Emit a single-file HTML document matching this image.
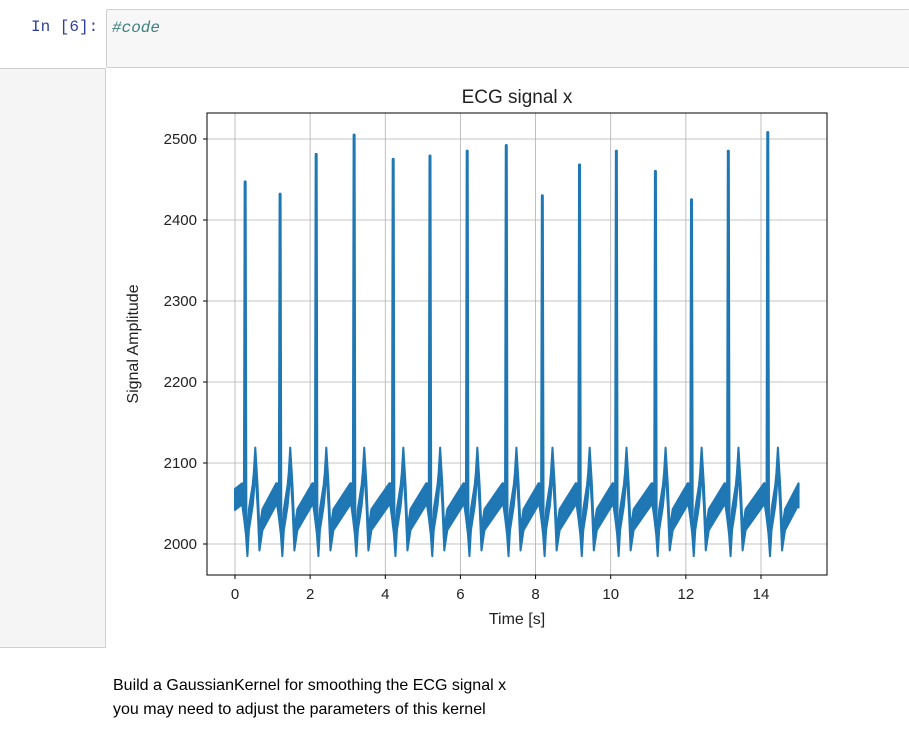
<!DOCTYPE html>
<html><head><meta charset="utf-8"><style>
body{margin:0;width:909px;height:742px;background:#fff;position:relative;overflow:hidden;font-family:"Liberation Sans",sans-serif}
.abs{position:absolute}
</style></head><body>
<div class="abs" style="left:31px;top:18px;font-family:'Liberation Mono',monospace;font-size:16px;color:#303f9f">In [6]:</div>
<div class="abs" style="left:106px;top:9px;width:803px;height:57px;background:#f7f7f7;border:1px solid #cfcfcf;border-right:none;border-radius:2px">
<span style="position:absolute;left:5px;top:9px;font-family:'Liberation Mono',monospace;font-style:italic;font-size:16px;color:#408080">#code</span></div>
<div class="abs" style="left:-1px;top:68px;width:105px;height:578px;background:#f5f5f5;border:1px solid #cfcfcf"></div>
<svg class="abs" style="left:0;top:0" width="909" height="742">
<g id="grid"></g><g id="sig"></g><g id="axes"></g>
</svg>
<div class="abs" style="left:113px;top:674px;font-size:16px;line-height:24px;color:#000">Build a GaussianKernel for smoothing the ECG signal x<br>you may need to adjust the parameters of this kernel</div>
<script>
const peakTimes=[0.27,1.20,2.16,3.17,4.21,5.19,6.18,7.22,8.18,9.17,10.15,11.19,12.15,13.13,14.18];
const peakValues=[2447,2432,2481,2505,2475,2479,2485,2492,2430,2468,2485,2460,2425,2485,2508];
const xTicks=[0,2,4,6,8,10,12,14];
const yTicks=[2000,2100,2200,2300,2400,2500];
const tEnd=15;
const NS='http://www.w3.org/2000/svg';
const L=207,R=827,T=113,B=575;
const X=t=>235+t*(761-235)/14;
const Y=v=>544-(v-2000)*(544-139)/500;
function mk(tag,at,parent){const e=document.createElementNS(NS,tag);for(const k in at)e.setAttribute(k,at[k]);document.getElementById(parent).appendChild(e);return e;}
xTicks.forEach(t=>{const l=mk('line',{x1:X(t),x2:X(t),y1:T,y2:B,stroke:'#b0b0b0','stroke-width':0.8},'grid');

});
yTicks.forEach(v=>{const l=mk('line',{x1:L,x2:R,y1:Y(v),y2:Y(v),stroke:'#b0b0b0','stroke-width':0.8},'grid');

});
const tpl=[[-0.08,2062],[-0.03,2045],[0.02,2025],[0.06,1998],[0.1,2030],[0.2,2060],[0.23,2075],[0.27,2106],[0.33,2060],[0.38,2005],[0.46,2030]];
let pts=[[0,2055]];
peakTimes.forEach((p,i)=>{tpl.forEach(([d,v])=>{const t=p+d;if(t>=0&&t<=tEnd)pts.push([t,v]);});
const nx=i+1<peakTimes.length?peakTimes[i+1]:tEnd+0.3;const e=Math.min(nx-0.1,tEnd);if(e>p+0.46)pts.push([e,2062]);});
pts.push([tEnd,2058]);
pts.sort((a,b)=>a[0]-b[0]);
const up=pts.map(([t,v])=>X(t)+','+Y(v+13)).join(' ');
const dn=pts.slice().reverse().map(([t,v])=>X(t)+','+Y(v-13)).join(' ');
const band=mk('polygon',{points:up+' '+dn,fill:'#1f77b4',stroke:'#1f77b4','stroke-width':2,'stroke-linejoin':'round'},'sig');


peakTimes.forEach((p,i)=>{const l=mk('polyline',{points:`${X(p-0.02)},${Y(2045)} ${X(p)},${Y(peakValues[i])} ${X(p+0.02)},${Y(2020)}`,fill:'none',stroke:'#1f77b4','stroke-width':3,'stroke-linejoin':'round'},'sig');

});
const fr=mk('rect',{x:L,y:T,width:R-L,height:B-T,fill:'none',stroke:'#000','stroke-width':1},'axes');


xTicks.forEach(t=>{mk('line',{x1:X(t),x2:X(t),y1:B,y2:B+4,stroke:'#000'},'axes');
const tx=mk('text',{x:X(t),y:B+24,'text-anchor':'middle','font-size':15,fill:'#222'},'axes');tx.textContent=t;

});
yTicks.forEach(v=>{mk('line',{x1:L-4,x2:L,y1:Y(v),y2:Y(v),stroke:'#000'},'axes');
const tx=mk('text',{x:L-10,y:Y(v)+5,'text-anchor':'end','font-size':15,fill:'#222'},'axes');tx.textContent=v;

});
let t1=mk('text',{x:517,y:103,'text-anchor':'middle','font-size':19,fill:'#222'},'axes');t1.textContent='ECG signal x';


let t2=mk('text',{x:517,y:624,'text-anchor':'middle','font-size':16,fill:'#222'},'axes');t2.textContent='Time [s]';


let t3=mk('text',{x:138,y:344,'text-anchor':'middle','font-size':16,fill:'#222',transform:'rotate(-90 138 344)'},'axes');t3.textContent='Signal Amplitude';


</script>
</body></html>
